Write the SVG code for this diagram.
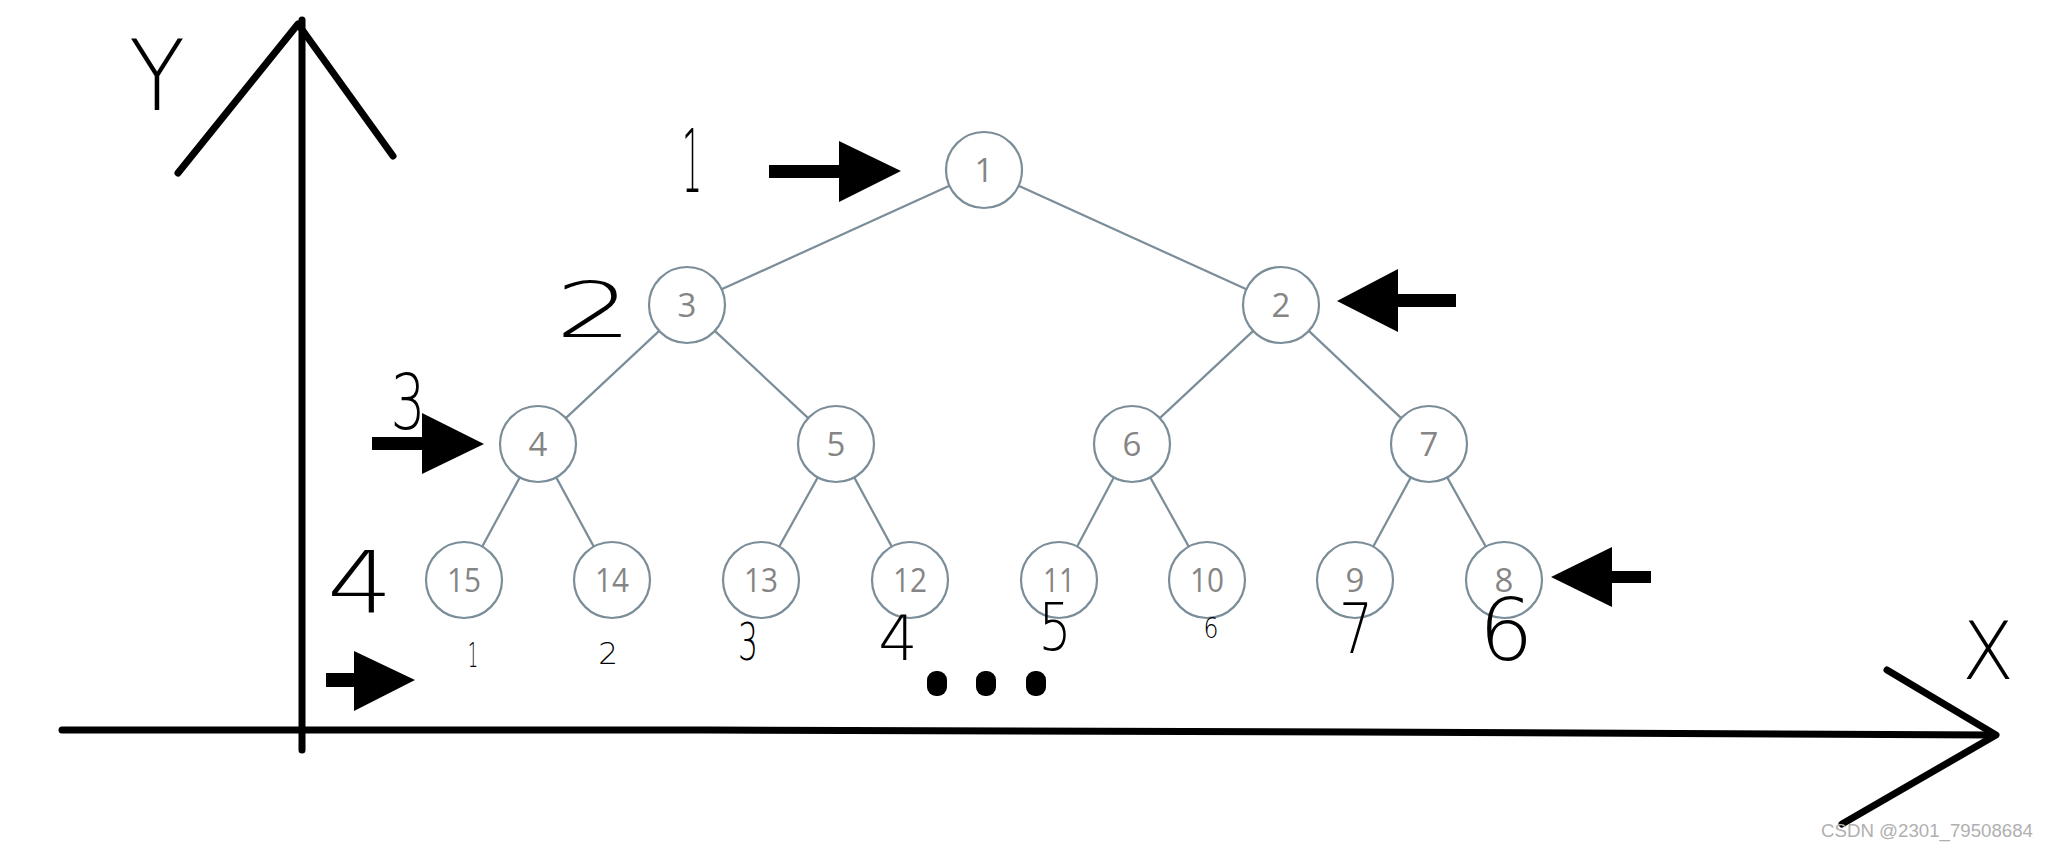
<svg xmlns="http://www.w3.org/2000/svg" width="2047" height="848" viewBox="0 0 2047 848">
<style>
.node circle{fill:#fff;stroke:#7a8d98;stroke-width:2.2}
.node text{font-family:"Open Sans","Liberation Sans",sans-serif;font-size:33px;fill:#858585;text-anchor:middle}
#edges line{stroke:#7a8d98;stroke-width:2.2}
.axis{stroke:#000;stroke-width:7;fill:none;stroke-linecap:round;stroke-linejoin:round}
.hand{font-family:"DejaVu Sans","Liberation Sans",sans-serif;fill:#000;text-anchor:middle;font-weight:200}
.blk{fill:#000}
</style>
<rect width="2047" height="848" fill="#fff"/>
<g id="axes">
<line class="axis" x1="302" y1="20" x2="302" y2="750"/>
<polyline class="axis" points="178,173 298,24 393,156"/>
<polyline class="axis" points="62,730 708,730 1354,732 1994,735"/>
<polyline class="axis" points="1887,670 1996,735 1842,824"/>
</g>
<g id="edges">
<line x1="949.4" y1="185.7" x2="721.6" y2="289.3"/>
<line x1="1018.6" y1="185.7" x2="1246.4" y2="289.3"/>
<line x1="659.2" y1="330.9" x2="565.8" y2="418.1"/>
<line x1="714.8" y1="330.9" x2="808.2" y2="418.1"/>
<line x1="1253.2" y1="330.9" x2="1159.8" y2="418.1"/>
<line x1="1308.8" y1="330.9" x2="1401.2" y2="418.1"/>
<line x1="519.8" y1="477.4" x2="482.2" y2="546.6"/>
<line x1="556.2" y1="477.4" x2="593.8" y2="546.6"/>
<line x1="817.8" y1="477.4" x2="779.2" y2="546.6"/>
<line x1="854.2" y1="477.4" x2="891.8" y2="546.6"/>
<line x1="1113.8" y1="477.4" x2="1077.2" y2="546.6"/>
<line x1="1150.2" y1="477.4" x2="1188.8" y2="546.6"/>
<line x1="1410.8" y1="477.4" x2="1373.2" y2="546.6"/>
<line x1="1447.2" y1="477.4" x2="1485.8" y2="546.6"/>
</g>
<g id="n1" class="node"><circle cx="984" cy="170" r="38"/><text x="984" y="182">1</text></g>
<g id="n3" class="node"><circle cx="687" cy="305" r="38"/><text x="687" y="317">3</text></g>
<g id="n2" class="node"><circle cx="1281" cy="305" r="38"/><text x="1281" y="317">2</text></g>
<g id="n4" class="node"><circle cx="538" cy="444" r="38"/><text x="538" y="456">4</text></g>
<g id="n5" class="node"><circle cx="836" cy="444" r="38"/><text x="836" y="456">5</text></g>
<g id="n6" class="node"><circle cx="1132" cy="444" r="38"/><text x="1132" y="456">6</text></g>
<g id="n7" class="node"><circle cx="1429" cy="444" r="38"/><text x="1429" y="456">7</text></g>
<g id="n15" class="node"><circle cx="464" cy="580" r="38"/><text x="464" y="592" textLength="34" lengthAdjust="spacingAndGlyphs">15</text></g>
<g id="n14" class="node"><circle cx="612" cy="580" r="38"/><text x="612" y="592" textLength="34" lengthAdjust="spacingAndGlyphs">14</text></g>
<g id="n13" class="node"><circle cx="761" cy="580" r="38"/><text x="761" y="592" textLength="34" lengthAdjust="spacingAndGlyphs">13</text></g>
<g id="n12" class="node"><circle cx="910" cy="580" r="38"/><text x="910" y="592" textLength="34" lengthAdjust="spacingAndGlyphs">12</text></g>
<g id="n11" class="node"><circle cx="1059" cy="580" r="38"/><text x="1059" y="592" textLength="32" lengthAdjust="spacingAndGlyphs">11</text></g>
<g id="n10" class="node"><circle cx="1207" cy="580" r="38"/><text x="1207" y="592" textLength="34" lengthAdjust="spacingAndGlyphs">10</text></g>
<g id="n9" class="node"><circle cx="1355" cy="580" r="38"/><text x="1355" y="592">9</text></g>
<g id="n8" class="node"><circle cx="1504" cy="580" r="38"/><text x="1504" y="592">8</text></g>
<g id="arrows">
<polygon class="blk" points="769,165 839,165 839,141 901,171 839,202 839,178 769,178"/>
<polygon class="blk" points="1456,294 1398,294 1398,269 1337,301 1398,332 1398,307 1456,307"/>
<polygon class="blk" points="372,437 422,437 422,413 484,444 422,474 422,450 372,450"/>
<polygon class="blk" points="1651,571 1612,571 1612,547 1551,577 1612,607 1612,583 1651,583"/>
<polygon class="blk" points="326,673 354,673 354,651 415,680 354,711 354,687 326,687"/>
</g>
<g id="dots">
<rect class="blk" x="927" y="671" width="20" height="25" rx="9"/>
<rect class="blk" x="976" y="671" width="20" height="25" rx="9"/>
<rect class="blk" x="1026" y="671" width="20" height="25" rx="9"/>
</g>
<g id="labels">
<text class="hand" x="157" y="110" font-size="98" textLength="56" lengthAdjust="spacingAndGlyphs">Y</text>
<text class="hand" x="1988" y="679" font-size="80" textLength="52" lengthAdjust="spacingAndGlyphs">X</text>
<text class="hand" x="692" y="192" font-size="88" textLength="20" lengthAdjust="spacingAndGlyphs">1</text>
<text class="hand" x="594" y="337" font-size="76" textLength="78" lengthAdjust="spacingAndGlyphs">2</text>
<text class="hand" x="408" y="429" font-size="76" textLength="35" lengthAdjust="spacingAndGlyphs">3</text>
<text class="hand" x="360" y="613" font-size="86" textLength="66" lengthAdjust="spacingAndGlyphs">4</text>
<text class="hand" x="473" y="667" font-size="34" textLength="10" lengthAdjust="spacingAndGlyphs">1</text>
<text class="hand" x="608" y="664" font-size="31">2</text>
<text class="hand" x="748" y="660" font-size="52" textLength="20" lengthAdjust="spacingAndGlyphs">3</text>
<text class="hand" x="898" y="660" font-size="62">4</text>
<text class="hand" x="1055" y="650" font-size="66" textLength="33" lengthAdjust="spacingAndGlyphs">5</text>
<text class="hand" x="1211" y="638" font-size="29" textLength="15" lengthAdjust="spacingAndGlyphs">6</text>
<text class="hand" x="1356" y="653" font-size="70" textLength="34" lengthAdjust="spacingAndGlyphs">7</text>
<text class="hand" x="1506" y="660" font-size="86">6</text>
</g>
<text x="2033" y="837" font-family="Liberation Sans,Arial,sans-serif" font-size="18" fill="#b0b0b0" text-anchor="end" textLength="212" lengthAdjust="spacingAndGlyphs">CSDN @2301_79508684</text>
</svg>
